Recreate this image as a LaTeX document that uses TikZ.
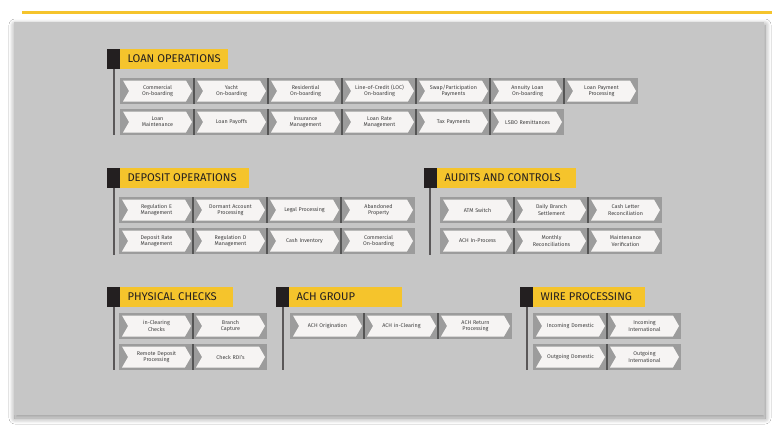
\documentclass[tikz,border=0pt]{standalone}
\usepackage{fontspec}
\setmainfont{Fira Sans}
\usetikzlibrary{shapes.symbols,shadows.blur}
\definecolor{bgc}{HTML}{C6C6C6}
\definecolor{stripc}{HTML}{9C9C9C}
\definecolor{sepc}{HTML}{555555}
\definecolor{yel}{HTML}{F5C42C}
\definecolor{blk}{HTML}{231F20}
\definecolor{wc}{HTML}{F6F4F3}
\tikzset{
  chev/.style={signal, signal to=east, signal from=west, signal pointer angle=120, fill=wc, minimum width=69pt, minimum height=21pt, inner sep=0pt, text width=52pt, align=center, font=\fontsize{5.4}{6.2}\selectfont, text=black!75},
  vline/.style={draw=blk!75, line width=1.4pt}
}
\newcommand\mycell[5]{% name, x, y, text, separator(1/0)
  \fill[stripc] (#2,#3) rectangle +(74,26);
  \ifnum#5=1 \fill[sepc] (#2-1,#3) rectangle +(2.2,26);\fi
  \node[chev] (#1) at (#2+37.5,#3+13) {#4};
}
\newcommand\myhdr[6]{% name, x black, y top, x yellow end, height, text
  \fill[blk] (#2,#3) rectangle (#2+13,#3+#5);
  \fill[yel] (#2+13,#3) rectangle (#4,#3+#5);
  \node[anchor=west, font=\fontsize{11.2}{12}\selectfont, text=blk] (#1) at (#2+17,#3+#5/2) {#6};
}
\begin{document}
\begin{tikzpicture}[x=1pt,y=-1pt]
\useasboundingbox (0,0) rectangle (772,431);
\fill[white] (0,0) rectangle (772,431);
\draw[yel, line width=3pt] (22,12) -- (772,12);
\fill[bgc, blur shadow={shadow blur steps=14, shadow blur radius=6pt, shadow xshift=1pt, shadow yshift=-3pt, shadow opacity=45}] (14,22) rectangle (764,415);
% LOAN
\draw[vline] (114,60) -- (114,135);
\myhdr{hl}{107}{49}{228}{20}{LOAN OPERATIONS}
\mycell{l1}{120}{78}{Commercial\\On-boarding}{0}
\mycell{l2}{194}{78}{Yacht\\On-boarding}{1}
\mycell{l3}{268}{78}{Residential\\On-boarding}{1}
\mycell{l4}{342}{78}{Line-of-Credit (LOC)\\On-boarding}{1}
\mycell{l5}{416}{78}{Swap/Participation\\Payments}{1}
\mycell{l6}{490}{78}{Annuity Loan\\On-boarding}{1}
\mycell{l7}{564}{78}{Loan Payment\\Processing}{1}
\mycell{m1}{120}{109}{Loan\\Maintenance}{0}
\mycell{m2}{194}{109}{Loan Payoffs}{1}
\mycell{m3}{268}{109}{Insurance\\Management}{1}
\mycell{m4}{342}{109}{Loan Rate\\Management}{1}
\mycell{m5}{416}{109}{Tax Payments}{1}
\mycell{m6}{490}{109}{LSBO Remittances}{1}
% DEPOSIT
\draw[vline] (114,180) -- (114,255);
\myhdr{hd}{107}{168}{249}{20}{DEPOSIT OPERATIONS}
\mycell{d1}{119}{197}{Regulation E\\Management}{0}
\mycell{d2}{193}{197}{Dormant Account\\Processing}{1}
\mycell{d3}{267}{197}{Legal Processing}{1}
\mycell{d4}{341}{197}{Abandoned\\Property}{1}
\mycell{e1}{119}{228}{Deposit Rate\\Management}{0}
\mycell{e2}{193}{228}{Regulation D\\Management}{1}
\mycell{e3}{267}{228}{Cash Inventory}{1}
\mycell{e4}{341}{228}{Commercial\\On-boarding}{1}
% AUDITS
\draw[vline] (430,180) -- (430,255);
\myhdr{ha}{424}{168}{576}{20}{AUDITS AND CONTROLS}
\mycell{a1}{440}{197}{ATM Switch}{0}
\mycell{a2}{514}{197}{Daily Branch\\Settlement}{1}
\mycell{a3}{588}{197}{Cash Letter\\Reconciliation}{1}
\mycell{b1}{440}{228}{ACH In-Process}{0}
\mycell{b2}{514}{228}{Monthly\\Reconciliations}{1}
\mycell{b3}{588}{228}{Maintenance\\Verification}{1}
% PHYSICAL
\draw[vline] (114,297) -- (114,370);
\myhdr{hp}{107}{287}{233}{20}{PHYSICAL CHECKS}
\mycell{p1}{119}{313}{in-Clearing\\Checks}{0}
\mycell{p2}{193}{313}{Branch\\Capture}{1}
\mycell{q1}{119}{344}{Remote Deposit\\Processing}{0}
\mycell{q2}{193}{344}{Check RDI's}{1}
% ACH
\draw[vline] (283,297) -- (283,370);
\myhdr{hc}{276}{287}{402}{20}{ACH GROUP}
\mycell{c1}{290}{313}{ACH Origination}{0}
\mycell{c2}{364}{313}{ACH in-Clearing}{1}
\mycell{c3}{438}{313}{ACH Return\\Processing}{1}
% WIRE
\draw[vline] (527,297) -- (527,370);
\myhdr{hw}{520}{287}{645}{20}{WIRE PROCESSING}
\mycell{w1}{533}{313}{Incoming Domestic}{0}
\mycell{w2}{607}{313}{Incoming\\International}{1}
\mycell{x1}{533}{344}{Outgoing Domestic}{0}
\mycell{x2}{607}{344}{Outgoing\\International}{1}
\end{tikzpicture}
\end{document}
